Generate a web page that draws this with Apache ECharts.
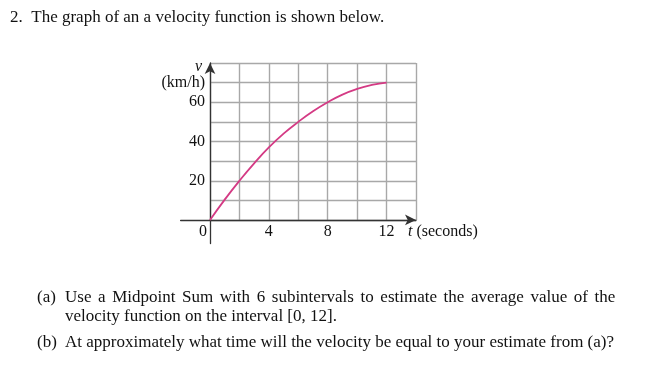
<!DOCTYPE html>
<html>
<head>
<meta charset="utf-8">
<script src="https://cdn.jsdelivr.net/npm/echarts@6/dist/echarts.min.js"></script>
<style>html,body{margin:0;padding:0;background:#fff}#c{width:650px;height:367px}</style>
</head>
<body>
<div id="c"></div>
<script>
// data
var times = [0, 1, 2, 3, 4, 5, 6, 7, 8, 9, 10, 11, 12];
var velocity = [0, 10.4, 20, 28.9, 37.0, 44.0, 50, 55.4, 60, 63.9, 66.8, 68.8, 70];
var xTickLabels = {0: '0', 4: '4', 8: '8', 12: '12'};
var yTickLabels = {20: '20', 40: '40', 60: '60', 70: '(km/h)'};
var xAxisVar = 't';
var xAxisUnit = ' (seconds)';
var yAxisName = 'v';
var headline = '2.  The graph of an a velocity function is shown below.';
var partA1 = 'Use a Midpoint Sum with 6 subintervals to estimate the average value of the';
var partA2 = 'velocity function on the interval [0, 12].';
var partB = 'At approximately what time will the velocity be equal to your estimate from (a)?';

var serif = '"Liberation Serif", "DejaVu Serif", serif';
var txt = function (text, left, top, size, rich) {
  return {text: text, left: left, top: top, padding: 0,
    textStyle: {fontFamily: serif, fontSize: size || 17, fontWeight: 'normal', color: '#111', rich: rich}};
};
var gapStyle = {s: {width: 6.6, fontFamily: serif, fontSize: 17}};
var justified = partA1.split(' ').join('{s| }');

var chart = echarts.init(document.getElementById('c'), null, {renderer: 'canvas'});
chart.setOption({
  animation: false,
  backgroundColor: '#fff',
  title: [
    txt(headline, 10, 9),
    txt('(a)', 37, 289.5), txt(justified, 65, 289.5, 17, gapStyle),
    txt(partA2, 65, 308.5),
    txt('(b)', 37, 334.5), txt(partB, 65, 334.5)
  ],
  grid: [
    {left: 210, top: 63, width: 206, height: 157},
    {left: 180.6, top: 63, width: 235.4, height: 180.5}
  ],
  xAxis: [
    {type: 'value', gridIndex: 0, min: 0, max: 14, interval: 2,
     axisLine: {show: false}, axisTick: {show: false},
     splitLine: {show: true, lineStyle: {color: '#a8a8a8', width: 1.4}},
     axisLabel: {show: true, margin: 4, color: '#111', fontFamily: serif, fontSize: 16,
       showMinLabel: true, showMaxLabel: true, hideOverlap: false,
       formatter: function (v) { if (v === 0) return '{z|0}'; return xTickLabels[v] || ''; },
       rich: {z: {padding: [0, 14, 0, 0], fontFamily: serif, fontSize: 16, color: '#111'}}},
     name: '{i|' + xAxisVar + '}' + xAxisUnit, nameLocation: 'end', nameGap: -8,
     nameTextStyle: {fontFamily: serif, fontSize: 16, color: '#111', align: 'left', verticalAlign: 'top', padding: [4, 0, 0, 0],
       rich: {i: {fontFamily: serif, fontSize: 16, fontStyle: 'italic', color: '#111'}}}},
    {type: 'value', gridIndex: 1, min: -2, max: 14,
     axisLine: {show: true, onZero: true, symbol: ['none', 'arrow'], symbolSize: [8, 11], symbolOffset: [0, 0],
       lineStyle: {color: '#333', width: 1.3}},
     axisTick: {show: false}, axisLabel: {show: false}, splitLine: {show: false}}
  ],
  yAxis: [
    {type: 'value', gridIndex: 0, min: 0, max: 80, interval: 10,
     axisLine: {show: false}, axisTick: {show: false},
     splitLine: {show: true, lineStyle: {color: '#a8a8a8', width: 1.4}},
     axisLabel: {show: true, margin: 5, color: '#111', fontFamily: serif, fontSize: 16,
       hideOverlap: false,
       formatter: function (v) { return yTickLabels[v] || ''; }},
     name: yAxisName, nameLocation: 'end', nameGap: -4,
     nameTextStyle: {fontFamily: serif, fontSize: 16, fontStyle: 'italic', color: '#111',
       align: 'right', verticalAlign: 'middle', padding: [0, 8, 0, 0]}},
    {type: 'value', gridIndex: 1, min: -12, max: 80,
     axisLine: {show: true, onZero: true, symbol: ['none', 'arrow'], symbolSize: [8, 11], symbolOffset: [0, 0],
       lineStyle: {color: '#333', width: 1.3}},
     axisTick: {show: false}, axisLabel: {show: false}, splitLine: {show: false}}
  ],
  series: [{
    type: 'line', xAxisIndex: 0, yAxisIndex: 0,
    data: times.map(function (t, i) { return [t, velocity[i]]; }),
    smooth: true, showSymbol: false, symbol: 'none',
    lineStyle: {color: '#d43a84', width: 1.8}
  }]
});
</script>
</body>
</html>
